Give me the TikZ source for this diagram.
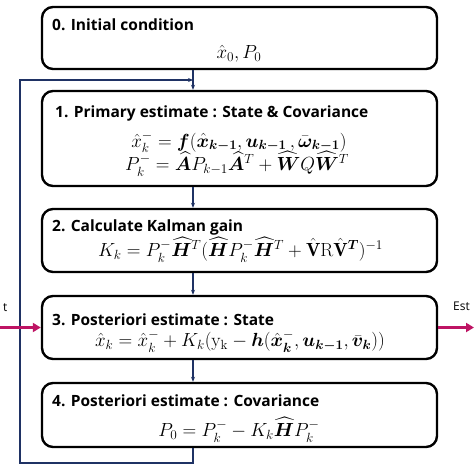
\RequirePackage{fix-cm}
\documentclass[tikz,border=0pt]{standalone}
\usepackage{amsmath,amssymb,bm}
\usepackage{fontspec}
\newfontfamily\headfont{Open Sans}
\usepackage{tikz}
\usetikzlibrary{arrows.meta,positioning}
\definecolor{flownavy}{RGB}{31,50,100}
\definecolor{signalred}{RGB}{190,20,100}

\begin{document}
\begin{tikzpicture}[x=1pt, y=-1pt,
    stage/.style={rectangle, draw=black, line width=2.4pt, rounded corners=11pt, minimum width=395pt, inner sep=0pt},
    head/.style={anchor=base west, inner sep=0pt, font=\headfont\bfseries\fontsize{15.5}{18}\selectfont},
    eqn/.style={anchor=base, inner sep=0pt, font=\fontsize{19}{22}\selectfont},
    flow/.style={-{Stealth[length=5pt,width=4pt]}, draw=flownavy, line width=1.3pt},
    signal/.style={-{Triangle[length=8pt,width=9pt]}, draw=signalred, line width=3pt},
    side/.style={inner sep=0pt, font=\headfont\fontsize{12}{14}\selectfont}
]
    \useasboundingbox (0,0) rectangle (474,474);

    \node[stage, minimum height=62pt] (b0) at (239.5,38) {};
    \node[stage, minimum height=95pt] (b1) at (239.5,138.5) {};
    \node[stage, minimum height=63pt] (b2) at (239.5,240.5) {};
    \node[stage, minimum height=63pt] (b3) at (239.5,327.5) {};
    \node[stage, minimum height=64pt] (b4) at (239.5,415) {};

    \node[head] (h0) at (52,30) {0. Initial condition};
    \node[head] (h1) at (55,117) {1. Primary estimate : State \& Covariance};
    \node[head] (h2) at (52,231.5) {2. Calculate Kalman gain};
    \node[head] (h3) at (52,325) {3. Posteriori estimate : State};
    \node[head] (h4) at (52,406.5) {4. Posteriori estimate : Covariance};

    \node[eqn] (e0) at (239,58.5) {$\hat{x}_0, P_0$};
    \node[eqn] (e1a) at (239,147) {$\hat{x}_k^- = \bm{f}(\hat{\bm{x}}_{\bm{k-1}}, \bm{u}_{\bm{k-1}}\,, \bar{\bm{\omega}}_{\bm{k-1}})$};
    \node[eqn] (e1b) at (237,170.5) {$P_k^- = \widehat{\bm{A}} P_{k-1} \widehat{\bm{A}}^T + \widehat{\bm{W}} Q \widehat{\bm{W}}^T$};
    \node[eqn] (e2) at (240.5,256.5) {$K_k = P_k^- \widehat{\bm{H}}^T (\widehat{\bm{H}} P_k^- \widehat{\bm{H}}^T + \hat{\mathbf{V}}\mathrm{R}\hat{\mathbf{V}}^{\bm{T}})^{-1}$};
    \node[eqn] (e3) at (240,346.5) {$\hat{x}_k = \hat{x}_k^- + K_k(\mathrm{y}_\mathrm{k} - \bm{h}(\hat{\bm{x}}_{\bm{k}}^-, \bm{u}_{\bm{k-1}}, \bar{\bm{v}}_{\bm{k}}))$};
    \node[eqn] (e4) at (239,436.5) {$P_0 = P_k^- - K_k \widehat{\bm{H}} P_k^-$};

    % spine and loop
    \coordinate (spine) at (193,0);
    \coordinate (loopL) at (20,463);
    \coordinate (join) at (193,80);
    \draw[flow] (b0.south -| spine) -- (b1.north -| spine);
    \draw[flow] (b1.south -| spine) -- (b2.north -| spine);
    \draw[flow] (b2.south -| spine) -- (b3.north -| spine);
    \draw[flow] (b3.south -| spine) -- (b4.north -| spine);
    \draw[flow] (b4.south -| spine) |- (loopL) |- (join);

    % measurement in, estimate out
    \coordinate (inL) at (0,327.5);
    \coordinate (outR) at (474,327.5);
    \draw[signal] (inL) -- (b3.west);
    \draw[signal] (b3.east) -- (outR);
    \node[side, anchor=base west] (meas) at (3,311) {t};
    \node[side, anchor=base west] (est) at (453,310) {Est};
\end{tikzpicture}
\end{document}
